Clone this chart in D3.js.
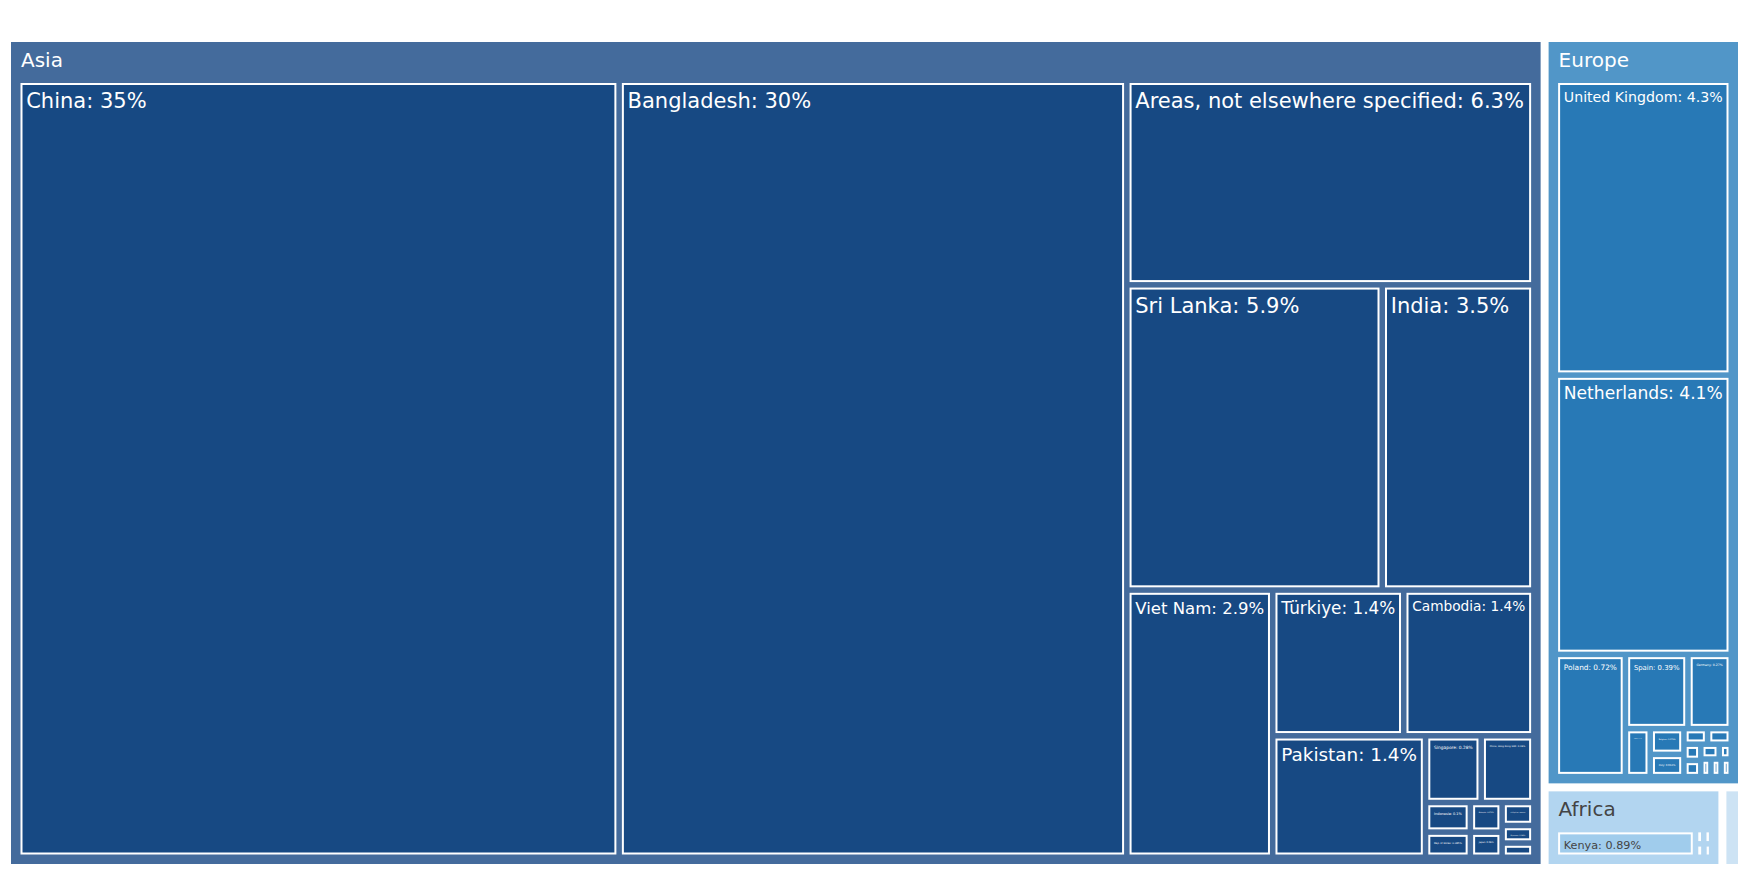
<!DOCTYPE html>
<html><head><meta charset="utf-8">
<script src="https://cdn.jsdelivr.net/npm/d3@7"></script>
<style>body{margin:0;background:#fff} text{font-family:"DejaVu Sans",sans-serif}</style>
</head><body><svg id="chart" width="1750" height="875"></svg>
<script>
// ---- data (percent of total) ----
const continents = ["Asia", "Europe", "Africa", "Americas"];
const asiaNames = ["China", "Bangladesh", "Areas, not elsewhere specified", "Sri Lanka", "India", "Viet Nam", "Türkiye", "Cambodia", "Pakistan", "Singapore", "China, Hong Kong SAR", "Indonesia", "Rep. of Korea", "Malaysia", "Japan", "Philippines", "Myanmar", "Thailand"];
const asiaValues = [35.24, 29.75, 6.28, 5.88, 3.49, 2.94, 1.44, 1.43, 1.40, 0.28, 0.265, 0.10, 0.085, 0.071, 0.06, 0.055, 0.042, 0.034];
const europeNames = ["United Kingdom", "Netherlands", "Poland", "Spain", "Germany", "France", "Belgium", "Italy", "Denmark", "Sweden", "Portugal", "Ireland", "Switzerland", "Greece", "Czechia", "Austria", "Norway"];
const europeValues = [4.36, 4.13, 0.72, 0.39, 0.27, 0.10, 0.073, 0.063, 0.031, 0.031, 0.023, 0.023, 0.023, 0.015, 0.015, 0.015, 0.015];
const africaNames = ["Kenya", "Ethiopia", "Egypt", "Mauritius", "South Africa"];
const africaValues = [0.895, 0.027, 0.026, 0.026, 0.024];
const americasNames = ["United States of America"];
const americasValues = [0.11];

// ---- styles ----
const parentFill = {Asia: "#446b9c", Europe: "#5196c8", Africa: "#b2d5f0", Americas: "#cde3f4"};
const leafFill = {Asia: "#174983", Europe: "#2879b6", Africa: "#a0ccec", Americas: "#c0dbf0"};
const textFill = {Asia: "#ffffff", Europe: "#ffffff", Africa: "#444444", Americas: "#444444"};

const names = [asiaNames, europeNames, africaNames, americasNames];
const values = [asiaValues, europeValues, africaValues, americasValues];

const area = {x: 11, y: 42, w: 1727, h: 822};
const svg = d3.select("#chart");
const g = svg.append("g").attr("transform", `translate(${area.x},${area.y})`);

const data = {name: "root", children: continents.map((c, i) => ({
  name: c, children: names[i].map((n, j) => ({name: n, value: values[i][j]}))
}))};

const root = d3.hierarchy(data).sum(d => d.value || 0).sort((a, b) => b.value - a.value);
d3.treemap()
  .tile(d3.treemapSquarify.ratio(1))
  .size([area.w, area.h])
  .paddingInner(d => d.depth === 0 ? 8 : 5.5)
  .paddingTop(d => d.depth === 1 ? 41 : 0)
  .paddingLeft(d => d.depth === 1 ? 9.5 : 0)
  .paddingRight(d => d.depth === 1 ? 9.5 : 0)
  .paddingBottom(d => d.depth === 1 ? 9.5 : 0)
  (root);

const total = root.value;
const fmt = d3.format(".2~r");

// measure helper
const meas = svg.append("text").attr("font-size", 100).attr("opacity", 0);
function emWidth(s) { meas.text(s); return meas.node().getComputedTextLength() / 100; }

// continents
const conts = g.selectAll("g.cont").data(root.children).join("g").attr("class", "cont");
conts.append("rect")
  .attr("x", d => d.x0).attr("y", d => d.y0)
  .attr("width", d => d.x1 - d.x0).attr("height", d => d.y1 - d.y0)
  .attr("fill", d => parentFill[d.data.name]);
conts.each(function(d) {
  const w = d.x1 - d.x0;
  const tw = emWidth(d.data.name) * 20;
  if (tw + 14 <= w) {
    d3.select(this).append("text")
      .attr("x", d.x0 + 10).attr("y", d.y0 + 24.5)
      .attr("font-size", 20).attr("fill", textFill[d.data.name])
      .text(d.data.name);
  }
});

// leaves
const leaves = root.leaves().filter(d => d.x1 - d.x0 >= 2 && d.y1 - d.y0 >= 2);
const lg = g.selectAll("g.leaf").data(leaves).join("g").attr("class", "leaf");
lg.append("rect")
  .attr("x", d => d.x0 + 1).attr("y", d => d.y0 + 1)
  .attr("width", d => Math.max(0, d.x1 - d.x0 - 2)).attr("height", d => Math.max(0, d.y1 - d.y0 - 2))
  .attr("fill", d => leafFill[d.parent.data.name])
  .attr("stroke", "#ffffff").attr("stroke-width", 2);
lg.each(function(d) {
  const label = `${d.data.name}: ${fmt(d.value / total * 100)}%`;
  const w = d.x1 - d.x0, h = d.y1 - d.y0;
  const em = emWidth(label);
  const size = Math.min(21, (w - 11.4) / em, (h - 10) / 1.08);
  if (size < 1) return;
  d3.select(this).append("text")
    .attr("x", d.x0 + 5.7).attr("y", d.y0 + 6.5 + 0.88 * size)
    .attr("font-size", size).attr("fill", textFill[d.parent.data.name])
    .text(label);
});
meas.remove();
</script></body></html>
